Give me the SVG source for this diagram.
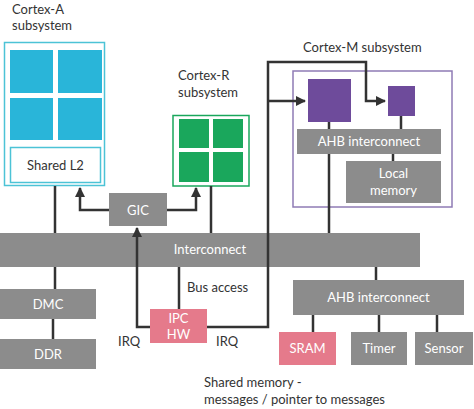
<svg xmlns="http://www.w3.org/2000/svg" width="474" height="409" viewBox="0 0 474 409">
<defs>
<marker id="ah" viewBox="0 0 10 10" refX="9" refY="5" markerWidth="4" markerHeight="4" orient="auto" markerUnits="strokeWidth">
<path d="M0,0 L10,5 L0,10 z" fill="#333"/>
</marker>
<style>
text{font-family:Lato,"Open Sans","Liberation Sans",sans-serif;font-size:13px}
.lbl{fill:#333}
.wt{fill:#fff;text-anchor:middle}
.g{fill:#8c8c8c}
.pk{fill:#e57a8b}
.w{fill:none;stroke:#333;stroke-width:2.5}
.cy{fill:#29b5d9}
.gr{fill:#1aa75c}
.pu{fill:#6e4b9b}
</style>
</defs>
<rect width="474" height="409" fill="#fff"/>

<g id="cortex-a">
<text class="lbl" x="12" y="14">Cortex-A</text>
<text class="lbl" x="12" y="30">subsystem</text>
<rect x="4.5" y="42.5" width="100" height="143" fill="#fff" stroke="#4cc3d6" stroke-width="1.5"/>
<rect class="cy" x="10" y="50" width="43" height="43"/>
<rect class="cy" x="58" y="50" width="44" height="43"/>
<rect class="cy" x="10" y="98" width="43" height="42"/>
<rect class="cy" x="58" y="98" width="44" height="42"/>
<rect x="10.5" y="147.5" width="90" height="35" fill="#fff" stroke="#4cc3d6" stroke-width="1.5"/>
<text class="lbl" x="55.5" y="170" text-anchor="middle">Shared L2</text>
</g>

<g id="cortex-r">
<text class="lbl" x="178" y="80">Cortex-R</text>
<text class="lbl" x="178" y="97">subsystem</text>
<rect x="173" y="115.5" width="76" height="70.5" fill="#fff" stroke="#1aa75c" stroke-width="1.5"/>
<rect class="gr" x="179" y="119" width="30" height="29"/>
<rect class="gr" x="213" y="119" width="30" height="29"/>
<rect class="gr" x="179" y="152" width="30" height="30"/>
<rect class="gr" x="213" y="152" width="30" height="30"/>
</g>

<g id="gic">
<rect class="g" x="109" y="193" width="58" height="33"/>
<text class="wt" x="138" y="214.5">GIC</text>
</g>

<g id="interconnect">
<rect class="g" x="0" y="233" width="420" height="34"/>
<text class="wt" x="210" y="254">Interconnect</text>
</g>

<g id="dmc">
<rect class="g" x="0" y="289" width="96" height="30"/>
<text class="wt" x="48" y="308.5">DMC</text>
</g>
<g id="ddr">
<rect class="g" x="0" y="339" width="96" height="30"/>
<text class="wt" x="48" y="358.5">DDR</text>
</g>

<g id="ipc-hw">
<rect class="pk" x="150" y="309" width="57" height="34"/>
<text class="wt" x="178.5" y="323">IPC</text>
<text class="wt" x="178.5" y="339">HW</text>
</g>
<text class="lbl" x="187" y="292">Bus access</text>
<text class="lbl" x="118" y="346">IRQ</text>
<text class="lbl" x="216" y="346">IRQ</text>

<g id="cortex-m">
<text class="lbl" x="303" y="52">Cortex-M subsystem</text>
<rect x="293" y="71" width="159" height="136" fill="none" stroke="#8f7bb5" stroke-width="1.5"/>
<rect class="pu" x="308" y="79" width="43" height="43"/>
<rect class="pu" x="388" y="86" width="27" height="30"/>
<rect class="g" x="297" y="129" width="144" height="25"/>
<text class="wt" x="369" y="146">AHB interconnect</text>
<rect class="g" x="346" y="161" width="95" height="42"/>
<text class="wt" x="393.5" y="178">Local</text>
<text class="wt" x="393.5" y="195">memory</text>
</g>

<g id="ahb-interconnect">
<rect class="g" x="293" y="280" width="171" height="35"/>
<text class="wt" x="378.5" y="302">AHB interconnect</text>
</g>
<g id="sram">
<rect class="pk" x="279" y="332" width="57" height="33"/>
<text class="wt" x="307.5" y="353">SRAM</text>
</g>
<g id="timer">
<rect class="g" x="351" y="332" width="56" height="33"/>
<text class="wt" x="379" y="353">Timer</text>
</g>
<g id="sensor">
<rect class="g" x="415" y="332" width="58" height="33"/>
<text class="wt" x="444" y="353">Sensor</text>
</g>

<text class="lbl" x="204" y="387">Shared memory -</text>
<text class="lbl" x="204" y="404">messages / pointer to messages</text>

<g id="connectors">
<line class="w" x1="55" y1="186" x2="55" y2="233"/>
<line class="w" x1="55" y1="267" x2="55" y2="289"/>
<line class="w" x1="53" y1="319" x2="53" y2="339"/>
<polyline class="w" points="109,210 80,210 80,188" marker-end="url(#ah)"/>
<polyline class="w" points="167,210 196,210 196,188" marker-end="url(#ah)"/>
<line class="w" x1="211" y1="186" x2="211" y2="233"/>
<polyline class="w" points="150,327 137,327 137,228" marker-end="url(#ah)"/>
<line class="w" x1="179" y1="309" x2="179" y2="267"/>
<polyline class="w" points="207,327 268,327 268,62 366,62 366,101 385,101" marker-end="url(#ah)"/>
<line class="w" x1="268" y1="101" x2="305" y2="101" marker-end="url(#ah)"/>
<line class="w" x1="329" y1="122" x2="329" y2="129"/>
<line class="w" x1="401" y1="116" x2="401" y2="129"/>
<line class="w" x1="393" y1="154" x2="393" y2="161"/>
<line class="w" x1="329" y1="154" x2="329" y2="233"/>
<line class="w" x1="376" y1="267" x2="376" y2="280"/>
<line class="w" x1="313" y1="315" x2="313" y2="332"/>
<line class="w" x1="379" y1="315" x2="379" y2="332"/>
<line class="w" x1="437" y1="315" x2="437" y2="332"/>
</g>
</svg>
